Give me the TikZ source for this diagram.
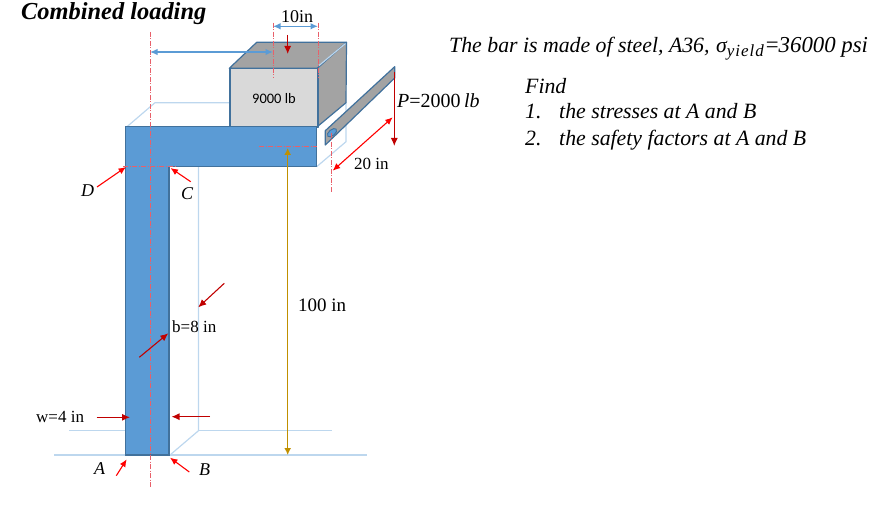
\documentclass[tikz,border=0pt]{standalone}
\usepackage{fontspec}
\setmainfont{Liberation Serif}
\newfontfamily\calfont{Carlito}
\newfontfamily\subfont[LetterSpace=6]{Liberation Serif}
\usetikzlibrary{arrows.meta}
\definecolor{barblue}{HTML}{5B9BD5}
\definecolor{edgeblue}{HTML}{41719C}
\definecolor{ghost}{HTML}{BDD7EE}
\definecolor{darkred}{HTML}{C00000}
\definecolor{gold}{HTML}{C09000}
\definecolor{centre}{HTML}{E8606A}
\tikzset{
  x=1pt,y=-1pt,
  solidface/.style={fill=barblue,draw=edgeblue,line width=1.2pt},
  grayface/.style={fill=#1,draw=edgeblue,line width=1.2pt,line join=round},
  ghostline/.style={draw=ghost,line width=1.2pt},
  centreline/.style={draw=centre,line width=.7pt,dash pattern=on 5pt off 1.5pt on 1pt off 1.5pt},
  redarrow/.style={draw=red,line width=1.1pt,-{Latex[length=7.5pt,width=6.5pt]}},
  dredarrow/.style={draw=darkred,line width=1.1pt,-{Latex[length=8pt,width=7pt]}},
  bluearrow/.style={draw=barblue,line width=1.3pt,{Latex[length=7.5pt,width=6.5pt]}-{Latex[length=7.5pt,width=6.5pt]}},
  goldarrow/.style={draw=gold,line width=1.5pt,{Latex[length=7pt,width=7pt]}-{Latex[length=7pt,width=7pt]}},
  lbl/.style={inner sep=0pt,anchor=base west,font=\fontsize{#1}{#1}\selectfont},
  lbl/.default=17,
  ilbl/.style={inner sep=0pt,anchor=base west,font=\fontsize{#1}{#1}\selectfont\itshape},
  ilbl/.default=21.8
}
\begin{document}
\begin{tikzpicture}
\useasboundingbox (0,0) rectangle (879,513);
% ghost outlines
\draw[ghostline] (54,455) -- (367,455);
\draw[ghostline] (69,430.7) -- (126,430.7);
\draw[ghostline] (199,430.7) -- (332,430.7);
\draw[ghostline] (198.5,166.7) -- (198.5,430.7) -- (170,455);
\draw[ghostline] (127,126.7) -- (155,102.7) -- (229,102.7);
\draw[ghostline] (346,102.7) -- (346,141.7) -- (316.7,166.7);
% block
\path[grayface={gray!72}] (229.3,68.3) -- (256.7,42.3) -- (346.5,42.3) -- (317.3,68.3) -- cycle;
\path[grayface={gray!72}] (317.3,68.3) -- (346.5,42.3) -- (346,102.7) -- (317.3,126.7) -- cycle;
\draw[ghostline] (318.5,66) -- (345.5,43.5);
\node[grayface={gray!30},minimum width=88pt,minimum height=58.4pt,inner sep=0pt,anchor=north west] (block) at (229.3,68.3) {};
\node[inner sep=0pt,font=\calfont\fontsize{14.5}{14.5}\selectfont] (weight) at (274,98.5) {9000 lb};
% bar
\fill[barblue] (125.7,126.7) rectangle (316.7,166.7);
\fill[barblue] (125.7,166.7) rectangle (169,455);
\draw[edgeblue,line width=1.2pt] (169,455) -- (169,166.7) -- (316.7,166.7) -- (316.7,126.7) -- (125.7,126.7) -- (125.7,455) -- cycle;
% lever
\path[grayface={gray!72}] (325.3,130.7) -- (394.7,66.7) -- (394.7,78) -- (325.3,145) -- cycle;
\draw[fill=barblue,draw=edgeblue,line width=.9pt,rotate around={40:(332,132.7)}] (332,132.7) ellipse [x radius=5.5pt,y radius=3pt];
% centre lines
\coordinate (ct) at (150,32); \coordinate (cb) at (150,487);
\draw[centreline] (ct) -- (cb);
\coordinate (dl) at (123,166.3); \coordinate (dr) at (176,166.3);
\draw[centreline] (dl) -- (dr);
\coordinate (hl) at (259,146.7); \coordinate (hr) at (316.7,146.7);
\draw[centreline] (hl) -- (hr);
\coordinate (v1t) at (273,22.7); \coordinate (v1b) at (273,78);
\draw[centreline] (v1t) -- (v1b);
\coordinate (v2t) at (318,22.7); \coordinate (v2b) at (318,78);
\draw[centreline] (v2t) -- (v2b);
\coordinate (v3t) at (331.3,133); \coordinate (v3b) at (331.3,191.7);
\draw[centreline] (v3t) -- (v3b);
% dimensions
\coordinate (a1) at (273,26.3); \coordinate (a2) at (318,26.3);
\draw[bluearrow] (a1) -- (a2);
\coordinate (b1) at (150,52); \coordinate (b2) at (273,52);
\draw[bluearrow] (b1) -- (b2);
\coordinate (w1) at (287.7,35); \coordinate (w2) at (287.7,54);
\draw[dredarrow] (w1) -- (w2);
\coordinate (p1) at (394.3,72); \coordinate (p2) at (394.3,146);
\draw[dredarrow] (p1) -- (p2);
\coordinate (t1) at (332.7,170.7); \coordinate (t2) at (392.7,117.3);
\draw[redarrow,{Latex[length=7.5pt,width=6.5pt]}-{Latex[length=7.5pt,width=6.5pt]}] (t1) -- (t2);
\coordinate (g1) at (287.7,148); \coordinate (g2) at (287.7,455);
\draw[goldarrow] (g1) -- (g2);
% pointers
\coordinate (cf) at (190.7,181.7); \coordinate (ct2) at (170.5,168);
\draw[redarrow] (cf) -- (ct2);
\coordinate (df) at (97,187); \coordinate (dt) at (126,167);
\draw[redarrow] (df) -- (dt);
\coordinate (af) at (116.3,475.7); \coordinate (at) at (126.7,459.3);
\draw[redarrow] (af) -- (at);
\coordinate (bf) at (189.3,472); \coordinate (bt) at (170,457.7);
\draw[redarrow] (bf) -- (bt);
\coordinate (n1f) at (224.3,283.3); \coordinate (n1t) at (198.3,307.3);
\draw[dredarrow] (n1f) -- (n1t);
\coordinate (n2f) at (139.3,357.3); \coordinate (n2t) at (168.3,333.3);
\draw[dredarrow] (n2f) -- (n2t);
\coordinate (w3f) at (96.7,417.3); \coordinate (w3t) at (130,417.3);
\draw[dredarrow] (w3f) -- (w3t);
\coordinate (w4f) at (210,416.7); \coordinate (w4t) at (171.5,416.7);
\draw[dredarrow] (w4f) -- (w4t);
% labels
\node[inner sep=0pt,anchor=base west,font=\fontsize{24.4}{25}\selectfont\bfseries\itshape] (title) at (21,20) {Combined loading};
\node[lbl=18] (ten) at (281,23) {10in};
\node[lbl=20] (pload) at (397,108) {\textit{P}=2000\,\textit{lb}};
\node[lbl] (twenty) at (354,169.5) {20 in};
\node[lbl=19] (hundred) at (298,312) {100 in};
\node[lbl] (bdim) at (172,333) {b=8 in};
\node[lbl] (wdim) at (36,422) {w=4 in};
\node[ilbl=18] (D) at (81,196.5) {D};
\node[ilbl=18] (C) at (181,199.5) {C};
\node[ilbl=18] (A) at (94,474) {A};
\node[ilbl=18] (B) at (199,475) {B};
\node[ilbl] (s1) at (449,52.5) {The bar is made of steel, A36, \kern1pt σ\raisebox{-4pt}{\subfont\itshape\fontsize{17}{17}\selectfont yield}\kern2pt{\fontsize{22.8}{23}\selectfont\textup{=}36000 psi}};
\node[ilbl] (s2) at (525,93.5) {Find};
\node[ilbl] (s3) at (525,119) {1.};
\node[ilbl] (s3b) at (559,119) {the stresses at A and B};
\node[ilbl] (s4) at (525,145.5) {2.};
\node[ilbl] (s4b) at (559,145.5) {the safety factors at A and B};
\end{tikzpicture}
\end{document}
